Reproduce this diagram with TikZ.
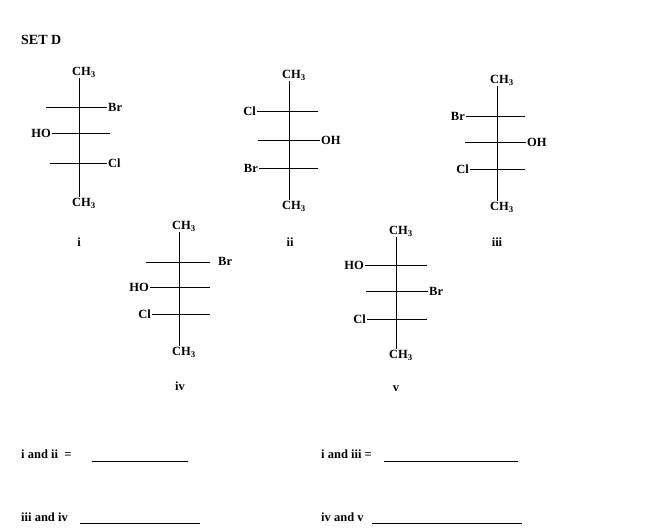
\documentclass[tikz,border=0pt]{standalone}
\usepackage{fontspec}
\setmainfont{Liberation Serif}
\begin{document}
\begin{tikzpicture}[x=1pt,y=-1pt,
  lab/.style={font=\bfseries\fontsize{12.5}{13}\selectfont,inner sep=1pt},
  bond/.style={line width=0.7pt}]
\useasboundingbox (0,0) rectangle (655,531);
\node[lab,anchor=west,font=\bfseries\fontsize{14}{15}\selectfont] (title) at (20,40) {SET D};
\newcommand{\fis}[4]{%
  \node[lab] (#1t) at (#2,#3) {CH\textsubscript{3}};
  \node[lab] (#1b) at (#2,#4) {CH\textsubscript{3}};
  \draw[bond] ([xshift=-5pt]#1t.south) -- ([xshift=-5pt]#1b.north);
}
% i
\fis{a}{84}{72}{203}
\coordinate (a1l) at (46,107); \coordinate (a2r) at (110,133); \coordinate (a3l) at (50,163);
\node[lab,anchor=west] (aBr) at (107,107) {Br};
\node[lab,anchor=east] (aHO) at (52,133) {HO};
\node[lab,anchor=west] (aCl) at (107,163) {Cl};
\draw[bond] (a1l) -- (aBr.west) (aHO.east) -- (a2r) (a3l) -- (aCl.west);
\node[lab] (li) at (79,242) {i};
% ii
\fis{b}{294}{75}{206}
\node[lab,anchor=east] (bCl) at (257,111) {Cl}; \coordinate (b1r) at (318,111);
\coordinate (b2l) at (258,140); \node[lab,anchor=west] (bOH) at (320,140) {OH};
\node[lab,anchor=east] (bBr) at (259,168) {Br}; \coordinate (b3r) at (318,168);
\draw[bond] (bCl.east) -- (b1r) (b2l) -- (bOH.west) (bBr.east) -- (b3r);
\node[lab] (lii) at (290,242) {ii};
% iii
\fis{c}{502}{80}{207}
\node[lab,anchor=east] (cBr) at (466,116) {Br}; \coordinate (c1r) at (525,116);
\coordinate (c2l) at (465,142); \node[lab,anchor=west] (cOH) at (526,142) {OH};
\node[lab,anchor=east] (cCl) at (470,169) {Cl}; \coordinate (c3r) at (525,169);
\draw[bond] (cBr.east) -- (c1r) (c2l) -- (cOH.west) (cCl.east) -- (c3r);
\node[lab] (liii) at (497,242) {iii};
% iv
\fis{d}{184}{226}{352}
\coordinate (d1l) at (146,262); \coordinate (d1r) at (210,262);
\node[lab,anchor=west] (dBr) at (217,261) {Br};
\node[lab,anchor=east] (dHO) at (150,287) {HO}; \coordinate (d2r) at (210,287);
\node[lab,anchor=east] (dCl) at (152,314) {Cl}; \coordinate (d3r) at (210,314);
\draw[bond] (d1l) -- (d1r) (dHO.east) -- (d2r) (dCl.east) -- (d3r);
\node[lab] (liv) at (180,386) {iv};
% v
\fis{e}{401}{231}{355}
\node[lab,anchor=east] (eHO) at (365,265) {HO}; \coordinate (e1r) at (427,265);
\coordinate (e2l) at (366,291); \node[lab,anchor=west] (eBr) at (428,291) {Br};
\node[lab,anchor=east] (eCl) at (367,319) {Cl}; \coordinate (e3r) at (427,319);
\draw[bond] (eHO.east) -- (e1r) (e2l) -- (eBr.west) (eCl.east) -- (e3r);
\node[lab] (lv) at (396,389) {v};
% answers
\node[lab,anchor=west] (q1) at (20,454) {i and ii \ =};
\coordinate (q1a) at (92,461); \coordinate (q1b) at (188,461);
\node[lab,anchor=west] (q2) at (320,454) {i and iii =};
\coordinate (q2a) at (384,461); \coordinate (q2b) at (518,461);
\node[lab,anchor=west] (q3) at (20,517) {iii and iv};
\coordinate (q3a) at (80,523); \coordinate (q3b) at (200,523);
\node[lab,anchor=west] (q4) at (320,517) {iv and v};
\coordinate (q4a) at (372,523); \coordinate (q4b) at (522,523);
\draw[line width=0.6pt] (q1a) -- (q1b) (q2a) -- (q2b) (q3a) -- (q3b) (q4a) -- (q4b);
\end{tikzpicture}
\end{document}
